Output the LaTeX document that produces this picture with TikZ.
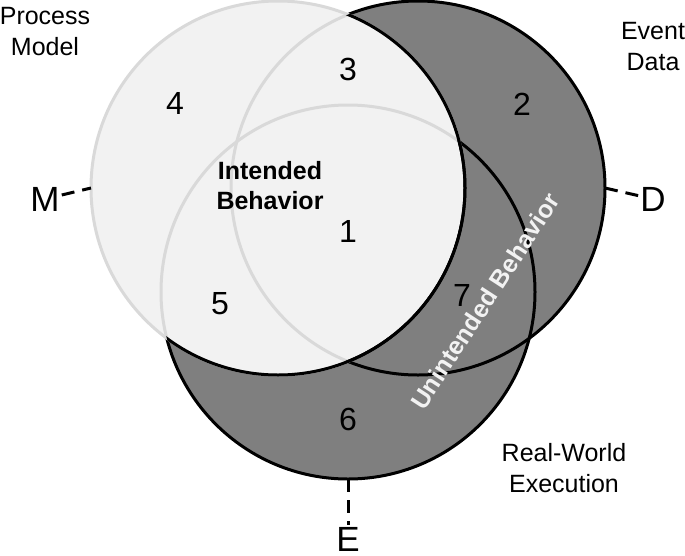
\documentclass[tikz,border=0pt]{standalone}
\usepackage{fontspec}
\setmainfont{Liberation Sans}
\usepackage{xcolor}

\definecolor{lightfill}{HTML}{F2F2F2}
\definecolor{darkfill}{HTML}{7F7F7F}
\definecolor{rimgray}{HTML}{D9D9D9}

\begin{document}
\begin{tikzpicture}[
    x=1pt, y=-1pt,
    setc/.style={circle, minimum size=374pt, inner sep=0pt, outer sep=0pt},
    rim/.style={line width=3pt, draw=rimgray},
    edge/.style={line width=3pt, draw=black},
    lbl/.style={font=\fontsize{25}{31}\selectfont, align=center, inner sep=1pt},
    boldlbl/.style={font=\fontsize{25}{30}\selectfont\bfseries, align=center, inner sep=1pt},
    num/.style={font=\fontsize{32}{38}\selectfont, inner sep=0pt},
    letter/.style={font=\fontsize{35}{40}\selectfont, inner sep=2pt},
    leader/.style={line width=3pt, draw=black, dash pattern=on 13pt off 8pt}
]
\useasboundingbox (0,0) rectangle (685,555);

%% ===== SETS (anchors only) =====
\node[setc] (mdl) at (278,188) {};
\node[setc] (evt) at (418,188) {};
\node[setc] (exe) at (348,292) {};

%% ===== FILLS + OUTER EDGES =====
\fill[darkfill] (evt.center) circle (187pt);
\fill[darkfill] (exe.center) circle (187pt);
\draw[edge] (evt.center) circle (187pt);
\draw[edge] (exe.center) circle (187pt);
\fill[lightfill] (mdl.center) circle (187pt);

%% ===== RIMS inside the model =====
\draw[rim] (mdl.center) circle (187pt);
\begin{scope}
  \clip (mdl.center) circle (187pt);
  \draw[rim] (evt.center) circle (187pt);
  \draw[rim] (exe.center) circle (187pt);
\end{scope}

%% ===== MODEL EDGE where it meets dark area =====
\begin{scope}
  \clip (evt.center) circle (187pt);
  \draw[edge] (mdl.center) circle (187pt);
\end{scope}
\begin{scope}
  \clip (exe.center) circle (187pt);
  \draw[edge] (mdl.center) circle (187pt);
\end{scope}

%% ===== REGION NUMBERS =====
\node[num] (n1) at (348,231) {1};
\node[num] (n2) at (522,104) {2};
\node[num] (n3) at (348,69)  {3};
\node[num] (n4) at (175,103) {4};
\node[num] (n5) at (220,304) {5};
\node[num] (n6) at (348,419) {6};
\node[num] (n7) at (462,295) {7};

%% ===== TEXTS =====
\node[boldlbl] (ib) at (270,186) {Intended\\Behavior};
\node[boldlbl, text=lightfill, rotate=57] (ub) at (485,301) {Unintended Behavior};

\node[lbl] (lblPM) at (45,32)   {Process\\Model};
\node[lbl] (lblED) at (653,47)  {Event\\Data};
\node[lbl] (lblRW) at (564,468) {Real-World\\Execution};

%% ===== LETTERS + LEADERS =====
\node[letter] (lblM) at (45,199)  {M};
\node[letter] (lblD) at (653,199) {D};
\node[letter] (lblE) at (348,539) {E};

\draw[leader] (lblM) -- (mdl.west);
\draw[leader] (evt.east) -- (lblD);
\draw[leader] (exe.south) -- (lblE);

\end{tikzpicture}
\end{document}
